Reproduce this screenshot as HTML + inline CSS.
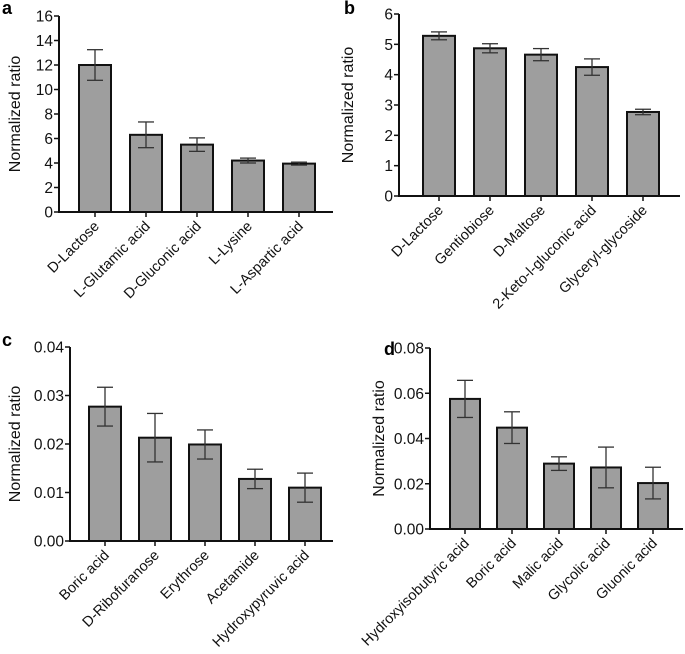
<!DOCTYPE html>
<html><head><meta charset="utf-8"><style>
body{margin:0;background:#fff;}
svg{display:block;font-family:"Liberation Sans",Arial,sans-serif;}
</style></head><body>
<svg id="s" width="685" height="654"></svg>
<script>
const catsA=["D-Lactose","L-Glutamic acid","D-Gluconic acid","L-Lysine","L-Aspartic acid"];
const valsA=[12.0,6.3,5.5,4.2,3.95];
const errA=[1.25,1.05,0.55,0.2,0.12];
const ticksA=[0,2,4,6,8,10,12,14,16];
const catsB=["D-Lactose","Gentiobiose","D-Maltose","2-Keto-l-gluconic acid","Glyceryl-glycoside"];
const valsB=[5.28,4.87,4.66,4.25,2.77];
const errB=[0.13,0.15,0.2,0.27,0.09];
const ticksB=[0,1,2,3,4,5,6];
const catsC=["Boric acid","D-Ribofuranose","Erythrose","Acetamide","Hydroxypyruvic acid"];
const valsC=[0.0277,0.0213,0.0199,0.0128,0.011];
const errC=[0.004,0.005,0.003,0.002,0.003];
const ticksC=["0.00","0.01","0.02","0.03","0.04"];
const catsD=["Hydroxyisobutyric acid","Boric acid","Malic acid","Glycolic acid","Gluonic acid"];
const valsD=[0.0575,0.0448,0.0289,0.0272,0.0203];
const errD=[0.0082,0.007,0.003,0.009,0.007];
const ticksD=["0.00","0.02","0.04","0.06","0.08"];

const NS="http://www.w3.org/2000/svg";
const svg=document.getElementById('s');
function mk(tag,attrs,parent){const e=document.createElementNS(NS,tag);for(const k in attrs)e.setAttribute(k,attrs[k]);(parent||svg).appendChild(e);return e;}

function panel(cfg){
  const g=mk('g',{});
  
  
  const max=parseFloat(cfg.ticks[cfg.ticks.length-1]);
  const y=v=>cfg.y0-(v/max)*(cfg.y0-cfg.yTop);
  const x=i=>cfg.c0+i*cfg.step;
  const L=mk('text',{x:cfg.lx,y:cfg.ly,'font-size':18,'font-weight':'bold'},g);
  L.textContent=cfg.letter;
  
  
  cfg.vals.forEach((v,i)=>{
    const b=mk('rect',{x:x(i)-cfg.bw/2,y:y(v),width:cfg.bw,height:cfg.y0-y(v),fill:'#9e9e9e',stroke:'#111','stroke-width':2},g);
    
    
    const e=cfg.err[i];
    const eg=mk('g',{stroke:'#333','stroke-width':1.3},g);
    
    
    mk('line',{x1:x(i),x2:x(i),y1:y(v+e),y2:y(v-e)},eg);
    mk('line',{x1:x(i)-8,x2:x(i)+8,y1:y(v+e),y2:y(v+e)},eg);
    mk('line',{x1:x(i)-8,x2:x(i)+8,y1:y(v-e),y2:y(v-e)},eg);
    mk('line',{x1:x(i),x2:x(i),y1:cfg.y0,y2:cfg.y0+5,stroke:'#111','stroke-width':1.5},g);
    const lab=mk('text',{'font-size':14.5,'text-anchor':'end',transform:`translate(${x(i)+5},${cfg.y0+15}) rotate(-45)`,fill:'#111'},g);
    lab.textContent=cfg.cats[i];
    
    
  });
  const ax=mk('path',{d:`M${cfg.ax},${cfg.yTop} L${cfg.ax},${cfg.y0} L${cfg.axEnd},${cfg.y0}`,fill:'none',stroke:'#111','stroke-width':2},g);
  
  
  cfg.ticks.forEach(tk=>{
    const yy=y(parseFloat(tk));
    mk('line',{x1:cfg.ax-5,x2:cfg.ax,y1:yy,y2:yy,stroke:'#111','stroke-width':1.5},g);
    const tl=mk('text',{x:cfg.ax-6,y:yy+5.5,'font-size':15.5,'text-anchor':'end',fill:'#111'},g);
    tl.textContent=tk;
    
    
  });
  const yt=mk('text',{'font-size':16,'text-anchor':'middle',transform:`translate(${cfg.tx},${(cfg.y0+cfg.yTop)/2}) rotate(-90)`,fill:'#111'},g);
  yt.textContent='Normalized ratio';
  
  
}
panel({letter:'a',cats:catsA,vals:valsA,err:errA,ticks:ticksA.map(String),ax:59,axEnd:333,y0:212,yTop:16,c0:95,step:51,bw:32,lx:2,ly:14,tx:20});
panel({letter:'b',cats:catsB,vals:valsB,err:errB,ticks:ticksB.map(String),ax:399,axEnd:680,y0:196,yTop:14,c0:439,step:51,bw:32,lx:344,ly:14,tx:353});
panel({letter:'c',cats:catsC,vals:valsC,err:errC,ticks:ticksC,ax:70,axEnd:333,y0:541,yTop:347,c0:105,step:50,bw:32,lx:2,ly:346,tx:20});
panel({letter:'d',cats:catsD,vals:valsD,err:errD,ticks:ticksD,ax:430,axEnd:683,y0:529,yTop:348,c0:465,step:47,bw:30,lx:384,ly:355,tx:384});
</script>
</body></html>
